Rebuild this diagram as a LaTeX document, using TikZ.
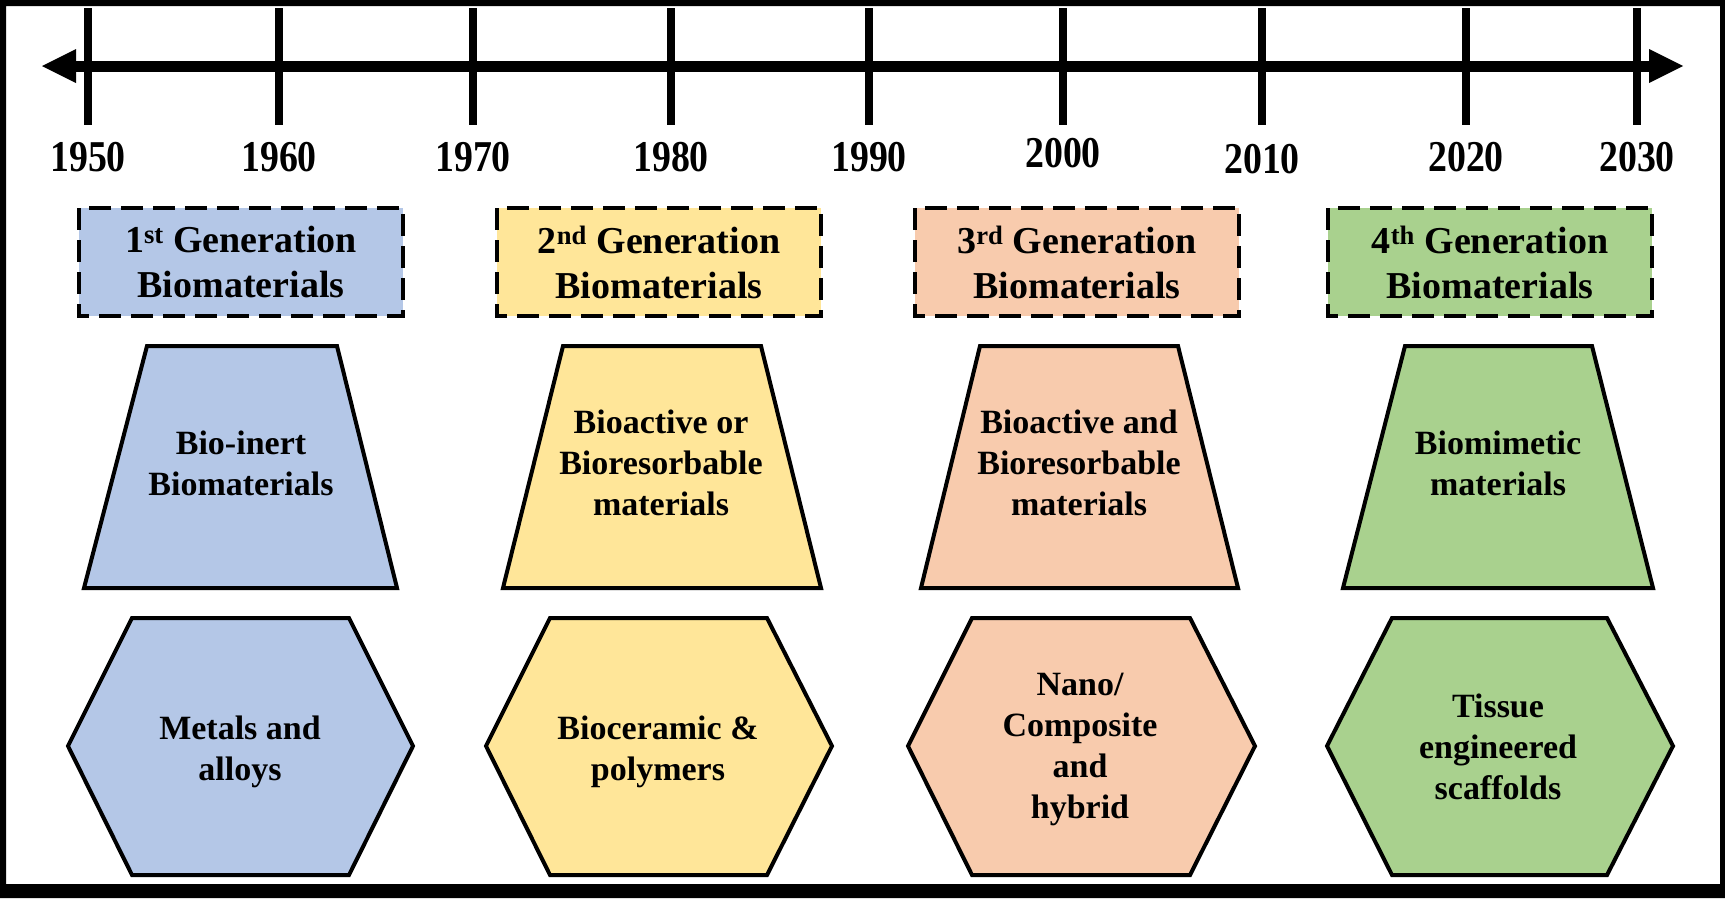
\documentclass[tikz,border=0pt]{standalone}
\usepackage{graphicx}
\usepackage{fontspec}
\setmainfont{Liberation Serif}
\definecolor{gblue}{HTML}{B4C7E7}
\definecolor{gyellow}{HTML}{FFE699}
\definecolor{gpeach}{HTML}{F8CBAD}
\definecolor{ggreen}{HTML}{A9D18E}
\begin{document}
\begin{tikzpicture}[x=1pt,y=-1pt,
  shapeline/.style={draw=black,line width=4pt,line join=miter},
  genbox/.style={draw=black,line width=4.2pt,dash pattern=on 22pt off 10pt},
  tickline/.style={line width=7.5pt},
  yearlbl/.style={font=\bfseries\fontsize{44}{44}\selectfont,inner sep=0pt},
  headtxt/.style={font=\bfseries\fontsize{38}{45}\selectfont,align=center,inner sep=0pt},
  bodytxt/.style={font=\bfseries\fontsize{34}{41}\selectfont,align=center,inner sep=0pt}]
\useasboundingbox (0,0) rectangle (1725,898);
% frame
\fill[black,even odd rule] (0,0) rectangle (1725,898) (6,6) rectangle (1720,884);
% timeline
\fill[black] (42,66) -- (76,49) -- (76,83) -- cycle;
\fill[black] (1683,66) -- (1649,49) -- (1649,83) -- cycle;
\draw[line width=11pt] (75,66) -- (1650,66);
\foreach \x/\yr/\ly in {88/1950/157,279/1960/157,473/1970/157,671/1980/157,869/1990/157,1063/2000/153,1262/2010/159,1466/2020/157,1637/2030/157}{
  \draw[tickline] (\x,8) -- (\x,125);
  \node[yearlbl] (y\yr) at (\x,\ly) {\scalebox{0.86}[1]{\yr}};
}
% generation boxes
\foreach \xa/\xb/\c/\n in {79/403/gblue/1,497/821/gyellow/2,915/1239/gpeach/3,1328/1652/ggreen/4}{
  \fill[\c] (\xa,208) rectangle (\xb,316);
  \draw[genbox] (\xa,208) rectangle (\xb,316);
}
\node[headtxt] (g1) at (241,262) {1\textsuperscript{st} Generation\\Biomaterials};
\node[headtxt] (g2) at (659,262) {2\textsuperscript{nd} Generation\\Biomaterials};
\node[headtxt] (g3) at (1077,262) {3\textsuperscript{rd} Generation\\Biomaterials};
\node[headtxt] (g4) at (1490,262) {4\textsuperscript{th} Generation\\Biomaterials};
% trapezoids
\foreach \ta/\tb/\ba/\bb/\c in {147/337/84/397/gblue,563/761/503/821/gyellow,980/1178/921/1238/gpeach,1405/1592/1343/1653/ggreen}{
  \filldraw[shapeline,fill=\c] (\ta,346) -- (\tb,346) -- (\bb,588) -- (\ba,588) -- cycle;
}
\node[bodytxt] (t1) at (241,463) {Bio-inert\\Biomaterials};
\node[bodytxt] (t2) at (661,463) {Bioactive or\\Bioresorbable\\materials};
\node[bodytxt] (t3) at (1079,463) {Bioactive and\\Bioresorbable\\materials};
\node[bodytxt] (t4) at (1498,463) {Biomimetic\\materials};
% hexagons
\foreach \l/\ta/\tb/\r/\c in {68/132/349/413/gblue,486/550/767/832/gyellow,908/972/1190/1255/gpeach,1327/1392/1607/1673/ggreen}{
  \filldraw[shapeline,fill=\c] (\l,746) -- (\ta,618) -- (\tb,618) -- (\r,746) -- (\tb,875) -- (\ta,875) -- cycle;
}
\node[bodytxt] (h1) at (240,752) {Metals and\\alloys};
\node[bodytxt] (h2) at (658,752) {Bioceramic \&\\polymers};
\node[bodytxt] (h3) at (1080,749) {Nano/\\Composite\\and\\hybrid};
\node[bodytxt] (h4) at (1498,747) {Tissue\\engineered\\scaffolds};
\end{tikzpicture}
\end{document}
